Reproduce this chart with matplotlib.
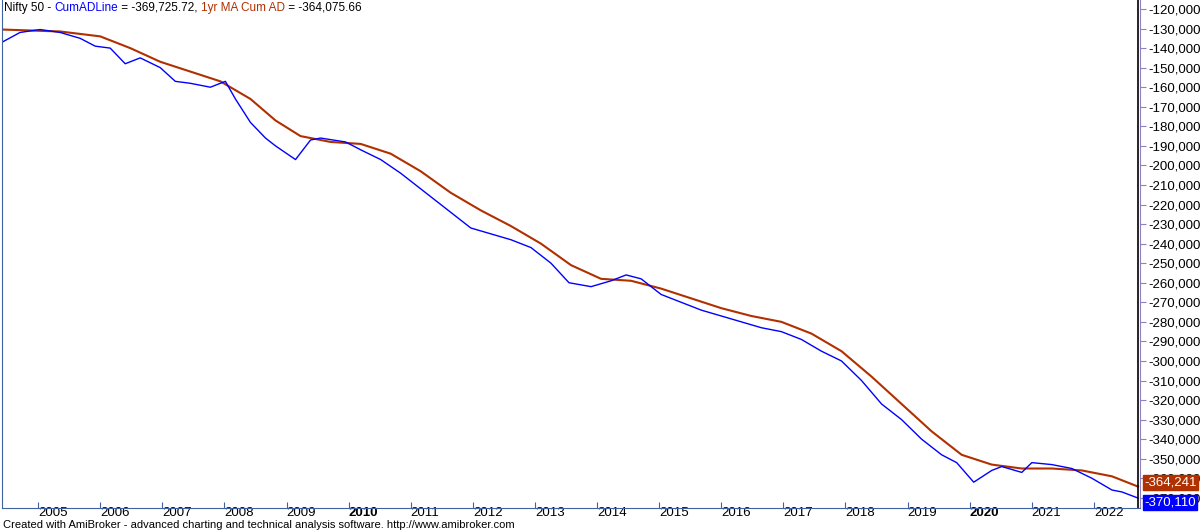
import matplotlib
matplotlib.use("Agg")
import matplotlib.pyplot as plt
import numpy as np

# pixel-read anchors converted to fractional years
blue_x = [2, 20, 40, 60, 80, 95, 110, 125, 140, 160, 175, 190, 210, 225, 235, 250, 265, 275, 295, 310, 320, 345, 360, 380, 400, 420, 440, 460, 470, 490, 510, 530, 550, 568, 590, 610, 625, 640, 660, 680, 700, 720, 740, 760, 780, 800, 820, 840, 860, 880, 900, 920, 940, 955, 972, 990, 1000, 1020, 1030, 1050, 1070, 1090, 1110, 1120, 1136]
blue_y = [-137, -132, -130.5, -132, -135, -139, -140, -148, -145, -150, -157, -158, -160, -157, -166, -178, -186, -190, -197, -187, -186, -188, -192, -197, -204, -212, -220, -228, -232, -235, -238, -242, -250, -260, -262, -259, -256, -258, -266, -270, -274, -277, -280, -283, -285, -289, -295, -300, -310, -322, -330, -340, -348, -352, -362, -356, -354, -357, -352, -353, -355, -360, -366, -367, -370.11]
red_x = [2, 60, 100, 130, 160, 190, 220, 250, 275, 300, 330, 360, 390, 420, 450, 480, 510, 540, 570, 600, 630, 660, 690, 720, 750, 780, 810, 840, 870, 900, 930, 960, 990, 1020, 1050, 1080, 1110, 1136]
red_y = [-130.5, -131.5, -134, -140, -147, -152, -157, -166, -177, -185, -188, -189, -194, -203, -214, -223, -231, -240, -251, -258, -259, -263, -268, -273, -277, -280, -286, -295, -308, -322, -336, -348, -353, -355, -355, -356, -359, -364.24]
years = list(range(2005, 2023))
last_vals = [-364241, -370110]

def px2yr(p):
    return 2005 + (np.array(p) - 38) / 62.0

bx = px2yr(blue_x); by = np.array(blue_y) * 1000
rx = px2yr(red_x); ry = np.array(red_y) * 1000

FONT = "Liberation Sans"
fig = plt.figure(figsize=(12, 5.32), dpi=100)
ax = fig.add_axes([2/1200, 24/532, 1138/1200, 508/532])
ax.plot(rx, ry, color="#b03000", lw=1.5)
ax.plot(bx, by, color="#0000ff", lw=1.0)
x0, x1 = px2yr([2, 1138])
ax.set_xlim(x0, x1)
ax.set_ylim(-375200, -115400)
ax.axvline(px2yr([1136])[0], color="black", lw=1.2)

ax.yaxis.tick_right()
yt = list(range(-120000, -371000, -10000))
ax.set_yticks(yt)
ax.set_yticklabels([f"{v:,}" for v in yt], fontsize=9.5, family=FONT)
ax.tick_params(axis="y", direction="out", length=4, pad=2, color="#9080c0")
ax.set_xticks(years)
ax.set_xticklabels([str(y) for y in years], fontsize=9.5, family=FONT, ha="left")
for lab, y in zip(ax.get_xticklabels(), years):
    if y in (2010, 2020):
        lab.set_fontweight("bold")
ax.tick_params(axis="x", direction="in", length=4, pad=-1, color="#4060a0")
for s in ["left", "bottom"]:
    ax.spines[s].set_color("#4060a0")
ax.spines["top"].set_visible(False)
ax.spines["right"].set_color("#9080c0")

for val, col, off in [(last_vals[0], "#b03000", 3), (last_vals[1], "#0000ff", -3)]:
    ax.annotate(f"{val:,}", xy=(1.0, val), xycoords=("axes fraction", "data"),
                xytext=(3, off), textcoords="offset points", va="center", ha="left",
                fontsize=9.5, color="white", family=FONT, zorder=10,
                bbox=dict(boxstyle="square,pad=0.12", fc=col, ec=col))

fs = 8.5
parts = [("Nifty 50 - ", "black"), ("CumADLine", "#0000ff"), (" = -369,725.72, ", "black"),
         ("1yr MA Cum AD", "#b03000"), (" = -364,075.66", "black")]
xpos = 4
r = fig.canvas.get_renderer()
for t, c in parts:
    tx = fig.text(xpos/1200, 1 - 2/532, t, color=c, fontsize=fs, family=FONT, va="top", ha="left")
    xpos += tx.get_window_extent(r).width
fig.text(3/1200, 2/532, "Created with AmiBroker - advanced charting and technical analysis software. http://www.amibroker.com",
         fontsize=8, family=FONT, va="bottom", ha="left")
fig.savefig("out.png", dpi=100)
